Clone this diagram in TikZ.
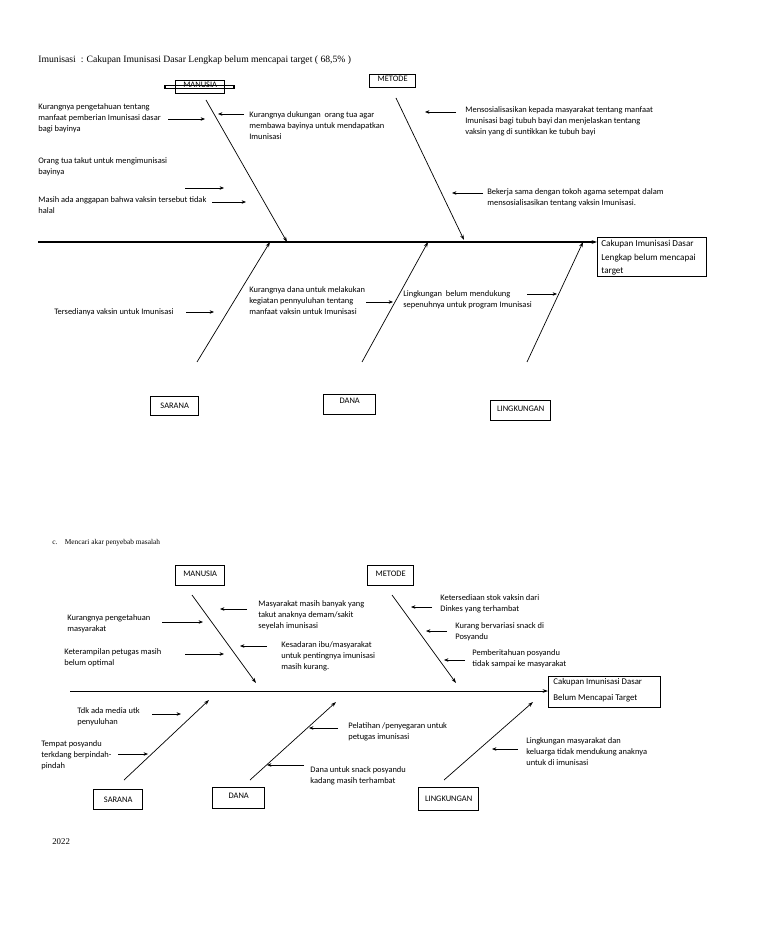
\documentclass[tikz,border=0pt]{standalone}
\usepackage{fontspec}
\setmainfont{Carlito}
\newfontfamily\titlefont{Liberation Serif}
\usetikzlibrary{arrows.meta}
\tikzset{
  lbl/.style={anchor=north west, align=left, inner sep=0pt, font=\fontsize{4.8}{6.4}\selectfont},
  cat/.style={draw, thick, inner sep=1pt, font=\fontsize{4.8}{6}\selectfont},
  bone/.style={thin, -{Stealth[length=3pt,width=2pt]}},
  cause/.style={thin, -{Stealth[length=2.5pt,width=2pt]}}
}
\begin{document}
\begin{tikzpicture}[x=0.02cm,y=-0.02cm]
		\useasboundingbox[fill=white] (0,0) rectangle (768,932);
		% ---- first diagram
		\node[anchor=west, inner sep=0pt, font=\titlefont\fontsize{5.5}{6}\selectfont] (title) at (38,60) {Imunisasi \ : Cakupan Imunisasi Dasar Lengkap belum mencapai target ( 68,5\% )};
		\node[cat, minimum width=49\pgflinewidth] (man1) at (199.5,87) {};
		\node[draw, thick, minimum width=0.98cm, minimum height=0.26cm, anchor=north west, inner sep=0pt] (man1) at (175,80) {};
		\node[font=\fontsize{4.8}{6}\selectfont, anchor=north, inner sep=1pt] at (man1.north) {MANUSIA};
		\node[draw, thick, minimum width=0.92cm, minimum height=0.26cm, anchor=north west, inner sep=0pt] (met1) at (369,74) {};
		\node[font=\fontsize{4.8}{6}\selectfont, anchor=north, inner sep=1pt] at (met1.north) {METODE};
		\node[draw, thick, minimum width=0.96cm, minimum height=0.38cm, anchor=north west, inner sep=0pt] (sar1) at (150,396) {};
		\node[font=\fontsize{4.8}{6}\selectfont, inner sep=0pt] at (sar1) {SARANA};
		\node[draw, thick, minimum width=1.04cm, minimum height=0.40cm, anchor=north west, inner sep=0pt] (dan1) at (323,394) {};
		\node[font=\fontsize{4.8}{6}\selectfont, anchor=north, inner sep=2pt] at (dan1.north) {DANA};
		\node[draw, thick, minimum width=1.2cm, minimum height=0.40cm, anchor=north west, inner sep=0pt] (lin1) at (490,400) {};
		\node[font=\fontsize{4.8}{6}\selectfont, anchor=north, inner sep=3pt] at (lin1.north) {LINGKUNGAN};
		\node[draw, thick, minimum width=2.18cm, minimum height=0.78cm, anchor=north west, inner sep=0pt] (eff1) at (597,237) {};
		\node[lbl, font=\fontsize{5.2}{7.6}\selectfont] at (601,240) {Cakupan Imunisasi Dasar\\Lengkap belum mencapai\\target};

		\coordinate (s1a) at (38,242);
		\draw[bone, semithick] (s1a) -- (eff1.west |- s1a);
		\draw[bone] (206,100) -- (287,242);
		\draw[bone] (396,98) -- (464,240);
		\draw[bone] (197,362) -- (270,242);
		\draw[bone] (362,362) -- (428,242);
		\draw[bone] (527,362) -- (583,242);

		\node[lbl] (c1) at (38,103) {Kurangnya pengetahuan tentang\\manfaat pemberian Imunisasi dasar\\bagi bayinya};
		\draw[cause] (168,119) -- (205,119);
		\node[lbl] (c2) at (249,111) {Kurangnya dukungan \ orang tua agar\\membawa bayinya untuk mendapatkan\\Imunisasi};
		\draw[cause] (244,114) -- (218,114);
		\node[lbl] (c3) at (38,157) {Orang tua takut untuk mengimunisasi\\bayinya};
		\draw[cause] (185,188) -- (224,188);
		\node[lbl] (c4) at (38,196) {Masih ada anggapan bahwa vaksin tersebut tidak\\halal};
		\draw[cause] (212,202) -- (246,202);
		\node[lbl] (c5) at (465,106) {Mensosialisasikan kepada masyarakat tentang manfaat\\Imunisasi bagi tubuh bayi dan menjelaskan tentang\\vaksin yang di suntikkan ke tubuh bayi};
		\draw[cause] (456,112) -- (425,112);
		\node[lbl] (c6) at (487,188) {Bekerja sama dengan tokoh agama setempat dalam\\mensosialisasikan tentang vaksin Imunisasi.};
		\draw[cause] (483,193) -- (452,193);
		\node[lbl] (c7) at (54,308) {Tersedianya vaksin untuk Imunisasi};
		\draw[cause] (186,312) -- (214,312);
		\node[lbl] (c8) at (249,286) {Kurangnya dana untuk melakukan\\kegiatan pennyuluhan tentang\\manfaat vaksin untuk Imunisasi};
		\draw[cause] (366,302) -- (393,302);
		\node[lbl] (c9) at (403,290) {Lingkungan \ belum mendukung\\sepenuhnya untuk program Imunisasi};
		\draw[cause] (527,294) -- (557,294);

		% ---- second diagram
		\node[anchor=west, inner sep=0pt, font=\titlefont\fontsize{4.2}{5}\selectfont] (sub) at (52,543) {c.\quad Mencari akar penyebab masalah};
		\node[draw, thick, minimum width=0.98cm, minimum height=0.40cm, anchor=north west, inner sep=0pt] (man2) at (175,565) {};
		\node[font=\fontsize{4.8}{6}\selectfont, anchor=north, inner sep=3pt] at (man2.north) {MANUSIA};
		\node[draw, thick, minimum width=0.92cm, minimum height=0.40cm, anchor=north west, inner sep=0pt] (met2) at (367,565) {};
		\node[font=\fontsize{4.8}{6}\selectfont, anchor=north, inner sep=3pt] at (met2.north) {METODE};
		\node[draw, thick, minimum width=0.98cm, minimum height=0.40cm, anchor=north west, inner sep=0pt] (sar2) at (93,789) {};
		\node[font=\fontsize{4.8}{6}\selectfont, inner sep=0pt] at (sar2) {SARANA};
		\node[draw, thick, minimum width=1.04cm, minimum height=0.42cm, anchor=north west, inner sep=0pt] (dan2) at (212,787) {};
		\node[font=\fontsize{4.8}{6}\selectfont, anchor=north, inner sep=3pt] at (dan2.north) {DANA};
		\node[draw, thick, minimum width=1.2cm, minimum height=0.46cm, anchor=north west, inner sep=0pt] (lin2) at (418,787) {};
		\node[font=\fontsize{4.8}{6}\selectfont, inner sep=0pt] at (lin2) {LINGKUNGAN};
		\node[draw, thick, minimum width=2.24cm, minimum height=0.62cm, anchor=north west, inner sep=0pt] (eff2) at (548,676) {};
		\node[lbl, font=\fontsize{5}{9}\selectfont] at (553,678) {Cakupan Imunisasi Dasar\\Belum Mencapai Target};

		\coordinate (s2a) at (70,691);
		\draw[bone] (s2a) -- (eff2.west |- s2a);
		\draw[bone] (192,595) -- (256,683);
		\draw[bone] (392,595) -- (456,683);
		\draw[bone] (124,780) -- (209,700);
		\draw[bone] (250,780) -- (336,702);
		\draw[bone] (444,780) -- (533,702);

		\node[lbl] (d1) at (67,614) {Kurangnya pengetahuan\\masyarakat};
		\draw[cause] (162,622) -- (203,622);
		\node[lbl] (d2) at (258,600) {Masyarakat masih banyak yang\\takut anaknya demam/sakit\\seyelah imunisasi};
		\draw[cause] (247,609) -- (220,609);
		\node[lbl] (d3) at (64,648) {Keterampilan petugas masih\\belum optimal};
		\draw[cause] (185,654) -- (224,654);
		\node[lbl] (d4) at (281,641) {Kesadaran ibu/masyarakat\\untuk pentingnya imunisasi\\masih kurang.};
		\draw[cause] (267,646) -- (240,646);
		\node[lbl] (d5) at (440,594) {Ketersediaan stok vaksin dari\\Dinkes yang terhambat};
		\draw[cause] (432,607) -- (411,607);
		\node[lbl] (d6) at (455,622) {Kurang bervariasi snack di\\Posyandu};
		\draw[cause] (447,631) -- (426,631);
		\node[lbl] (d7) at (472,649) {Pemberitahuan posyandu\\tidak sampai ke masyarakat};
		\draw[cause] (465,660) -- (444,660);
		\node[lbl] (d8) at (77,707) {Tdk ada media utk\\penyuluhan};
		\draw[cause] (152,714) -- (181,714);
		\node[lbl] (d9) at (41,740) {Tempat posyandu\\terkdang berpindah-\\pindah};
		\draw[cause] (118,754) -- (148,754);
		\node[lbl] (d10) at (348,722) {Pelatihan /penyegaran untuk\\petugas imunisasi};
		\draw[cause] (338,728) -- (309,728);
		\node[lbl] (d11) at (310,766) {Dana untuk snack posyandu\\kadang masih terhambat};
		\draw[cause] (304,765) -- (267,765);
		\node[lbl] (d12) at (526,737) {Lingkungan masyarakat dan\\keluarga tidak mendukung anaknya\\untuk di imunisasi};
		\draw[cause] (518,749) -- (492,749);

		\node[anchor=west, inner sep=0pt, font=\titlefont\fontsize{5}{6}\selectfont] (year) at (52,842) {2022};
\end{tikzpicture}
\end{document}
